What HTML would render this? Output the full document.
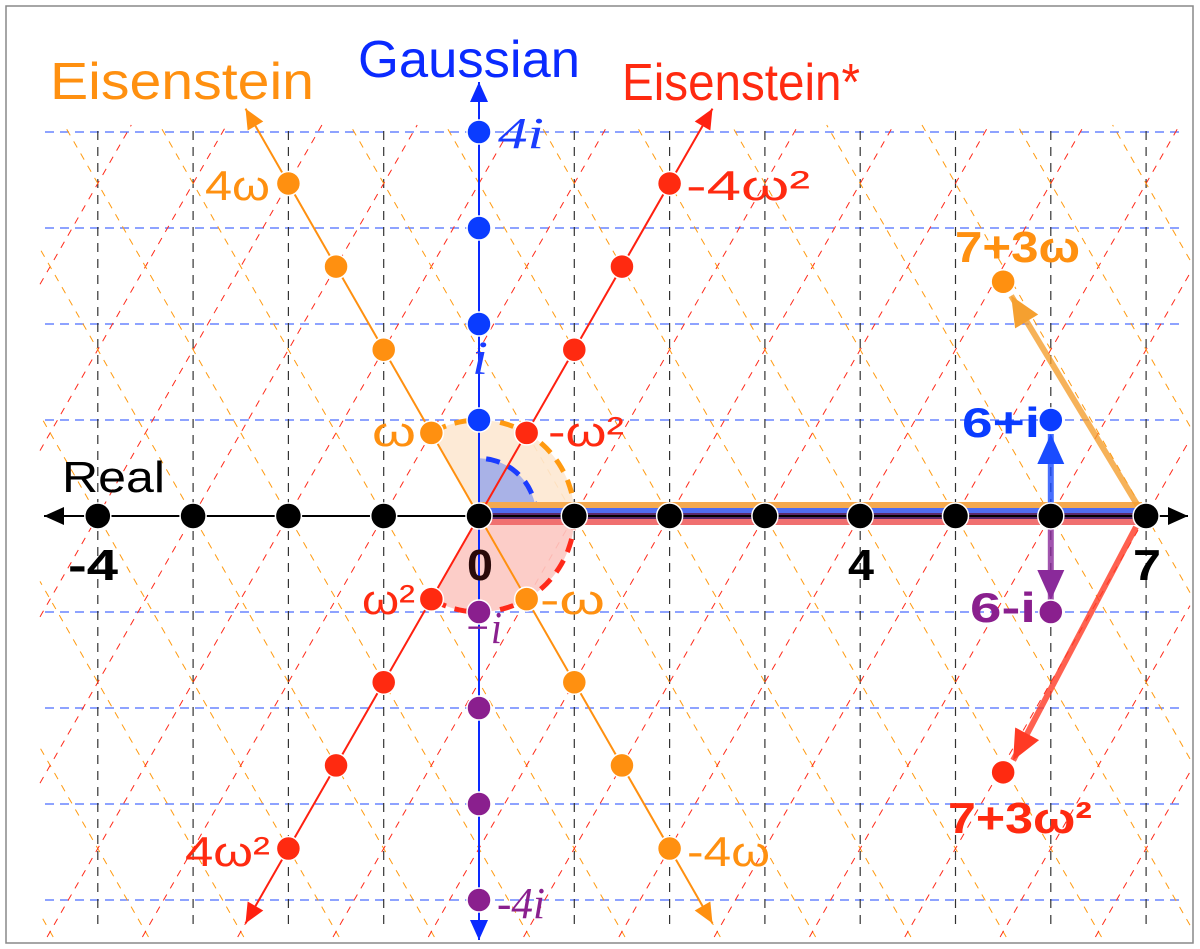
<!DOCTYPE html>
<html><head><meta charset="utf-8"><style>
html,body{margin:0;padding:0;background:#fff;overflow:hidden;width:1200px;height:949px;}
svg{display:block;font-family:"Liberation Sans",sans-serif;}
</style></head><body>
<svg id="chart" width="1200" height="949" viewBox="0 0 1200 949">
<rect x="6" y="6" width="1187" height="937" fill="#fff" stroke="#888" stroke-width="1.5"/>
<g id="grid"></g>
<g id="shapes"></g>
<g id="marks"></g>
<g id="labels"></g>
</svg>
<script>
const realValues = [-4,-3,-2,-1,0,1,2,3,4,5,6,7];
const gaussUp = [1,2,3,4];
const gaussDown = [-1,-2,-3,-4];
const eisMultiples = [1,2,3,4];
const gridRe = [-5,-4,-3,-2,-1,1,2,3,4,5,6,7,8];
const gridIm = [-4,-3,-2,-1,1,2,3,4];
const diagOffsets = [-16,-15,-14,-13,-12,-11,-10,-9,-8,-7,-6,-5,-4,-3,-2,-1,0,1,2,3,4,5,6,7,8,9,10,11,12,13,14,15,16,17,18,19,20];
const pt7p3w = [5.5, 2.44];
const pt7p3w2 = [5.5, -2.67];
const pt6pi = [6, 1];
const pt6mi = [6, -1];

const NS="http://www.w3.org/2000/svg";
const X=v=>479+95.3*v, Y=v=>516-96*v;
const H=Math.sqrt(3)/2;
const CX0=40,CX1=1190,CY0=125,CY1=937;
function mk(parent,tag,attrs){const e=document.createElementNS(NS,tag);for(const k in attrs)e.setAttribute(k,attrs[k]);document.getElementById(parent).appendChild(e);return e;}
function clipSeg(x1,y1,x2,y2){let t0=0,t1=1;const dx=x2-x1,dy=y2-y1;
 const p=[-dx,dx,-dy,dy],q=[x1-CX0,CX1-x1,y1-CY0,CY1-y1];
 for(let i=0;i<4;i++){if(p[i]===0){if(q[i]<0)return null;continue;}const r=q[i]/p[i];
  if(p[i]<0){if(r>t1)return null;if(r>t0)t0=r;}else{if(r<t0)return null;if(r<t1)t1=r;}}
 return [x1+t0*dx,y1+t0*dy,x1+t1*dx,y1+t1*dy];}

gridIm.forEach(k=>{const l=mk('grid','line',{x1:45,x2:1185,y1:Y(k),y2:Y(k),stroke:'#4a6cff','stroke-width':1.2,'stroke-dasharray':'9 6'});

});
gridRe.forEach(k=>{if(X(k)<CX0||X(k)>CX1)return;const l=mk('grid','line',{x1:X(k),x2:X(k),y1:131,y2:930,stroke:'#333','stroke-width':1.2,'stroke-dasharray':'9 7'});

});
diagOffsets.forEach(n=>{
  let c=clipSeg(X(n-5),Y(-10*H),X(n+5),Y(10*H));
  if(c){const r=mk('grid','line',{x1:c[0],y1:c[1],x2:c[2],y2:c[3],stroke:'#ff2a1a','stroke-width':1,'stroke-dasharray':'7 7'});
  
  }
  c=clipSeg(X(n+5),Y(-10*H),X(n-5),Y(10*H));
  if(c){const o=mk('grid','line',{x1:c[0],y1:c[1],x2:c[2],y2:c[3],stroke:'#ff9a10','stroke-width':1,'stroke-dasharray':'7 7'});
  
  }
});

function arcPath(a0,a1,r){const p=[];for(let i=0;i<=40;i++){const a=(a0+(a1-a0)*i/40)*Math.PI/180;p.push([X(r*Math.cos(a)),Y(r*Math.sin(a))]);}return p;}
function poly(p){return p.map((q,i)=>(i?'L':'M')+q[0].toFixed(1)+' '+q[1].toFixed(1)).join(' ');}
let s;
s=mk('shapes','path',{d:'M'+X(0)+' '+Y(0)+' '+poly(arcPath(0,120,1)).replace('M','L')+'Z',fill:'#fde8d2',opacity:0.9});


s=mk('shapes','path',{d:'M'+X(0)+' '+Y(0)+' '+poly(arcPath(0,-120,1)).replace('M','L')+'Z',fill:'#fcc8c2',opacity:0.9});


s=mk('shapes','path',{d:'M'+X(0)+' '+Y(0)+' '+poly(arcPath(0,90,0.6)).replace('M','L')+'Z',fill:'#9aa8ea',opacity:0.85});


s=mk('shapes','path',{d:poly(arcPath(0,120,1)),fill:'none',stroke:'#ff9a10','stroke-width':5,'stroke-dasharray':'14 9'});


s=mk('shapes','path',{d:poly(arcPath(0,-120,1)),fill:'none',stroke:'#ff2a1a','stroke-width':5,'stroke-dasharray':'14 9'});


s=mk('shapes','path',{d:poly(arcPath(0,90,0.6)),fill:'none',stroke:'#1a3cff','stroke-width':5,'stroke-dasharray':'14 9'});



[['#f5a94f',-11],['#4f6cf0',-5],['#5a2a6a',0],['#f07070',6]].forEach(b=>{
  const l=mk('shapes','line',{x1:X(0),x2:1142,y1:516+b[1],y2:516+b[1],stroke:b[0],'stroke-width':6});
  
  
});

function arrowHead(g,x,y,dx,dy,col,size){const L=Math.hypot(dx,dy);const ux=dx/L,uy=dy/L;const w=size*0.45;
 return mk(g,'path',{d:`M${x} ${y} L${x-ux*size-uy*w} ${y-uy*size+ux*w} L${x-ux*size+uy*w} ${y-uy*size-ux*w}Z`,fill:col});}
function axis(name,x1,y1,x2,y2,col,w){const l=mk('shapes','line',{x1,y1,x2,y2,stroke:col,'stroke-width':w});
 
 
 let a=arrowHead('shapes',x2,y2,x2-x1,y2-y1,col,20);
 a=arrowHead('shapes',x1,y1,x1-x2,y1-y2,col,20);}
axis('real-axis',44,516,1188,516,'#000',2);
axis('gaussian-axis',479,940,479,82,'#0a2aff',2);
axis('eisenstein-axis',X(4.9*0.5),Y(-4.9*H),X(-4.9*0.5),Y(4.9*H),'#ff9010',2);
axis('eisenstein-star-axis',X(-4.9*0.5),Y(-4.9*H),X(4.9*0.5),Y(4.9*H),'#ff2010',2);

function fatArrow(name,a,b,col){const l=mk('shapes','line',{x1:a[0],y1:a[1],x2:b[0],y2:b[1],stroke:col,'stroke-width':6,opacity:0.8});
 
 
 const h=arrowHead('shapes',b[0],b[1],b[0]-a[0],b[1]-a[1],col,30);
 
 }
fatArrow('arrow-to-7p3w',[1138,506],[X(pt7p3w[0])+8,Y(pt7p3w[1])+14],'#f5a030');
fatArrow('arrow-to-7p3w2',[1136,527],[X(pt7p3w2[0])+10,Y(pt7p3w2[1])-12],'#ff3a25');
fatArrow('arrow-to-6pi',[X(6),508],[X(pt6pi[0]),Y(pt6pi[1])+14],'#1a4cff');
fatArrow('arrow-to-6mi',[X(6),526],[X(pt6mi[0]),Y(pt6mi[1])-12],'#8a2a9a');

function dot(name,x,y,col,r){const c=mk('marks','circle',{cx:x,cy:y,r:r||12,fill:col,stroke:'#fff','stroke-width':1.5});
 
 }
realValues.forEach(v=>dot('real-point',X(v),Y(0),'#000',13));
gaussUp.forEach(k=>dot('gaussian-point',X(0),Y(k),'#0a3cff'));
gaussDown.forEach(k=>dot('gaussian-neg-point',X(0),Y(k),'#8a1f8e'));
eisMultiples.forEach(k=>{
 dot('eisenstein-point',X(-0.5*k),Y(H*k),'#ff9010');
 dot('eisenstein-neg-point',X(0.5*k),Y(-H*k),'#ff9010');
 dot('eisenstein-star-point',X(0.5*k),Y(H*k),'#ff2a10');
 dot('eisenstein-star-neg-point',X(-0.5*k),Y(-H*k),'#ff2a10');
});
dot('point-7p3w',X(pt7p3w[0]),Y(pt7p3w[1]),'#ff9010');
dot('point-7p3w2',X(pt7p3w2[0]),Y(pt7p3w2[1]),'#ff2a10');
dot('point-6pi',X(pt6pi[0]),Y(pt6pi[1]),'#0a3cff');
dot('point-6mi',X(pt6mi[0]),Y(pt6mi[1]),'#8a1f8e');

function txt(name,str,x,y,col,size,w,opts){opts=opts||{};const a={x,y,fill:col,'font-size':size,'font-weight':opts.bold?'bold':'normal','font-style':opts.italic?'italic':'normal','font-family':opts.serif?'"Liberation Serif",serif':'"Liberation Sans","DejaVu Sans",sans-serif'};
 if(w){a.textLength=w;a.lengthAdjust='spacingAndGlyphs';}
 const t=mk('labels','text',a);
 t.textContent=str;
 
 }
txt('eisenstein-title','Eisenstein',50,99,'#ff9010',52,264);
txt('gaussian-title','Gaussian',358,77,'#0a2aff',52,222);
txt('eisenstein-star-title','Eisenstein*',622,100,'#ff2a10',52,238);
txt('label-4i','4i',498,148,'#1a3cff',44,46,{italic:true,serif:true});
txt('label-4w','4ω',205,200,'#ff9010',42,65);
txt('label-m4w2','-4ω²',686,200,'#ff2a10',42,124);
txt('label-7p3w','7+3ω',955,262,'#ff9010',44,125,{bold:true});
txt('label-i','i',472,374,'#1a3cff',48,16,{italic:true,serif:true});
txt('label-w','ω',372,446,'#ff9010',42,44);
txt('label-mw2','-ω²',548,446,'#ff2a10',42,76);
txt('label-6pi','6+i',962,437,'#0a3cff',42,78,{bold:true});
txt('real-axis-title','Real',62,492,'#000',44,103);
txt('tick-m4','-4',68,580,'#000',44,50,{bold:true});
txt('tick-0','0',467,580,'#2a0a0a',44,26,{bold:true});
txt('tick-4','4',848,580,'#000',44,26,{bold:true});
txt('tick-7','7',1133,580,'#000',44,28,{bold:true});
txt('label-w2','ω²',362,614,'#ff2a10',42,53);
txt('label-mw','-ω',540,614,'#ff9010',42,65);
txt('label-mi','−i',464,643,'#8a1f8e',46,38,{italic:true,serif:true});
txt('label-6mi','6-i',970,622,'#8a1f8e',42,66,{bold:true});
txt('label-7p3w2','7+3ω²',948,833,'#ff2a10',44,144,{bold:true});
txt('label-4w2','4ω²',185,866,'#ff2a10',42,85);
txt('label-m4w','-4ω',687,866,'#ff9010',42,83);
txt('label-m4i','-4i',497,918,'#8a1f8e',44,48,{italic:true,serif:true});
</script>
</body></html>
